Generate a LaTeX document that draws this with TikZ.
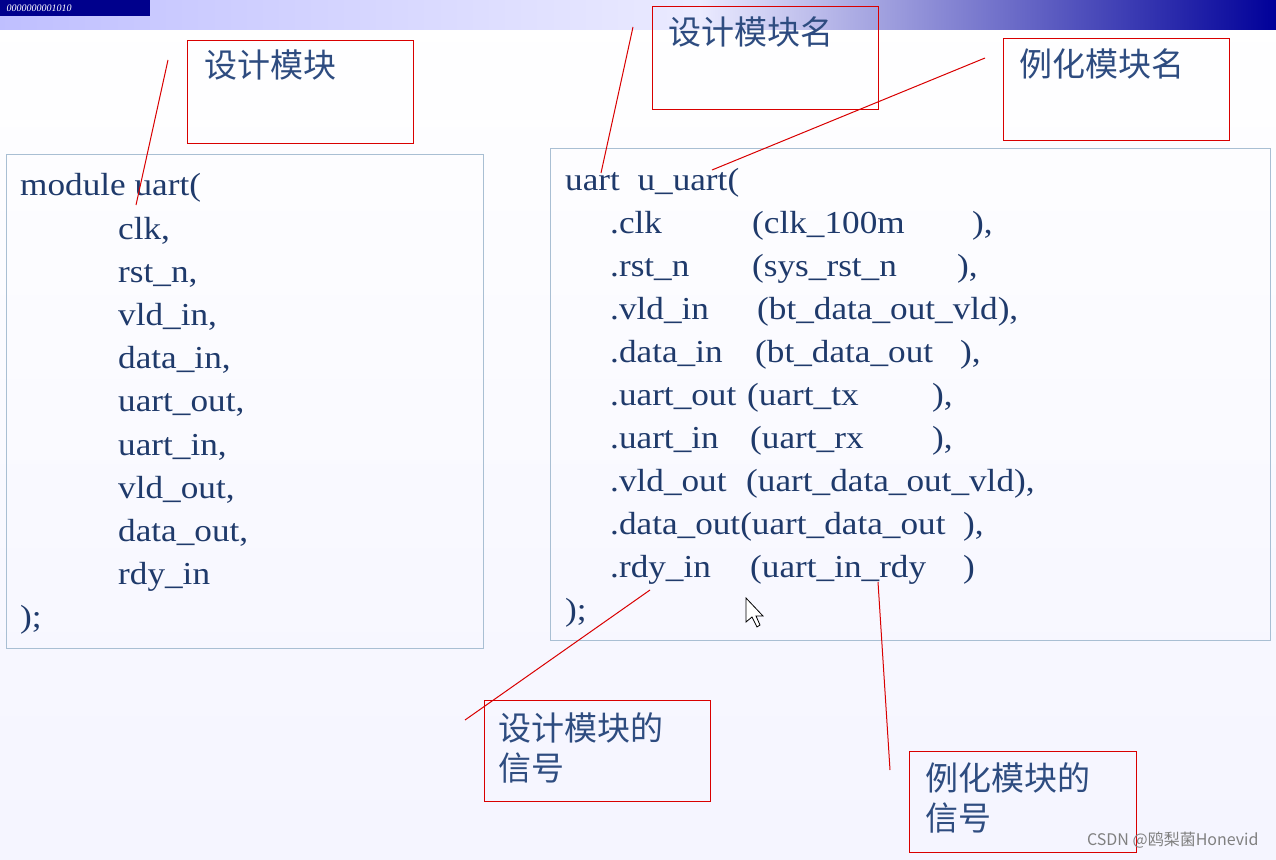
\documentclass[tikz,border=0pt]{standalone}
\usepackage{fontspec}
\setmainfont{Liberation Serif}
\newfontfamily\cjk{Noto Sans CJK SC}
\begin{document}
\begin{tikzpicture}[x=1pt,y=-1pt,
 code/.style={anchor=base west,inner sep=0pt,text=codec,xscale=1.1,font=\fontsize{32}{32}\selectfont},
 lab/.style={anchor=north west,inner sep=0pt,text=labc,align=left,font=\cjk\fontsize{33}{40}\selectfont},
 rbox/.style={draw=red!85!black,line width=1pt},
 cbox/.style={draw=boxc,line width=1pt},
 rline/.style={draw=red!85!black,line width=1pt}]
\definecolor{codec}{HTML}{1F3A6B}
\definecolor{labc}{HTML}{2E4C80}
\definecolor{boxc}{HTML}{A9BFD3}
\useasboundingbox (0,0) rectangle (1276,859);
\shade[top color=white,bottom color=blue!4] (0,0) rectangle (1276,859);
% top banner
\shade[left color=blue!25,right color=blue!8] (0,0) rectangle (700,30);
\shade[left color=blue!8,right color=blue!60!black] (700,0) rectangle (1276,30);
\fill[blue!55!black] (0,0) rectangle (150,16);
\node[anchor=west,text=white,font=\itshape\fontsize{10}{10}\selectfont] (bits) at (3,8) {0000000001010};
% code boxes
\draw[cbox] (6,154) rectangle (483,648);
\draw[cbox] (550,148) rectangle (1270,640);
% left code
\node[code] (m0) at (20,195) {module uart(};
\foreach \t [count=\i from 0] in {{clk,},{rst\_n,},{vld\_in,},{data\_in,},{uart\_out,},{uart\_in,},{vld\_out,},{data\_out,},{rdy\_in}}
 {\node[code] at (118,{239+43.2*\i}) {\t};}
\node[code] at (20,627) {);};
% right code
\node[code] (r0) at (565,190) {uart\ \ u\_uart(};
\def\rr#1#2#3#4#5{\node[code] at (610,#1) {#2};\node[code] at (#5,#1) {#3};\node[code] at (#4,#1) {),};}
\rr{233}{.clk}{(clk\_100m}{972}{752}
\rr{276}{.rst\_n}{(sys\_rst\_n}{957}{752}
\node[code] at (610,319) {.vld\_in};\node[code] at (757,319) {(bt\_data\_out\_vld),};
\rr{362}{.data\_in}{(bt\_data\_out}{960}{755}
\rr{405}{.uart\_out}{(uart\_tx}{932}{747}
\rr{448}{.uart\_in}{(uart\_rx}{932}{750}
\node[code] at (610,491) {.vld\_out};\node[code] at (746,491) {(uart\_data\_out\_vld),};
\node[code] at (610,534) {.data\_out(uart\_data\_out\ \ ),};
\node[code] at (610,577) {.rdy\_in};\node[code] at (750,577) {(uart\_in\_rdy};\node[code] at (963,577) {)};
\node[code] at (565,620) {);};
% red boxes & labels
\draw[rbox] (187,41) rectangle (413,143); \node[lab] (l1) at (204,50) {设计模块};
\draw[rbox] (652,7) rectangle (878,109); \node[lab] (l2) at (668,16) {设计模块名};
\draw[rbox] (1003,39) rectangle (1229,140); \node[lab] (l3) at (1019,48) {例化模块名};
\draw[rbox] (484,700) rectangle (710,801); \node[lab] (l4) at (498,712) {设计模块的\\信号};
\draw[rbox] (909,751) rectangle (1136,852); \node[lab] (l5) at (925,762) {例化模块的\\信号};
% red lines
\coordinate (a1) at (168,60); \coordinate (b1) at (136,205); \draw[rline] (a1)--(b1);
\coordinate (a2) at (633,27); \coordinate (b2) at (601,173); \draw[rline] (a2)--(b2);
\coordinate (a3) at (985,58); \coordinate (b3) at (712,170); \draw[rline] (a3)--(b3);
\coordinate (a4) at (650,590); \coordinate (b4) at (465,720); \draw[rline] (a4)--(b4);
\coordinate (a5) at (878,582); \coordinate (b5) at (890,770); \draw[rline] (a5)--(b5);
% cursor
\draw[black,fill=white,line width=0.8pt] (746,598)--(746,622)--(752,617)--(757,627)--(760,625)--(756,616)--(763,616)--cycle;
% watermark
\node[anchor=east,text=gray,font=\cjk\fontsize{16}{16}\selectfont] (wm) at (1262,840) {CSDN @鸥梨菌Honevid};
\end{tikzpicture}
\end{document}
